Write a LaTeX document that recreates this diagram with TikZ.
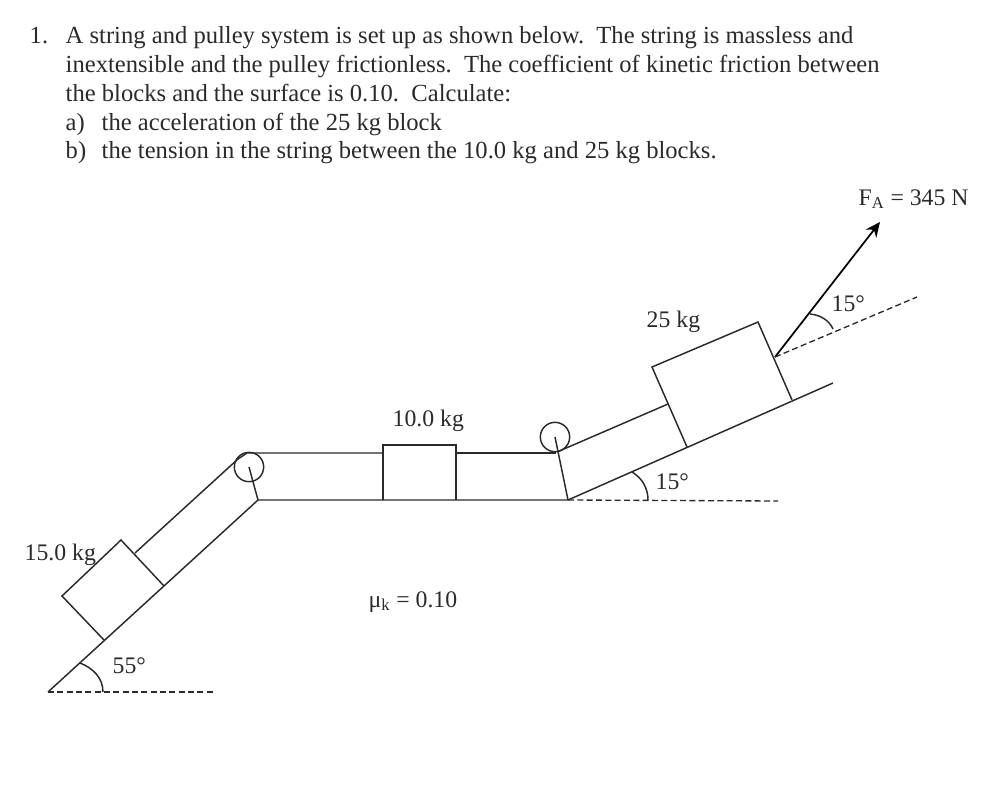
\documentclass[tikz,border=0pt]{standalone}
\usepackage{fontspec}
\setmainfont{Liberation Serif}
\usetikzlibrary{arrows.meta}
\definecolor{inkgray}{HTML}{2A2A2A}

\begin{document}
\begin{tikzpicture}[x=0.75pt,y=-0.75pt,>={Stealth[length=11pt,width=10pt]},line width=1.1pt,color=inkgray,
        textline/.style={anchor=base west,inner sep=0pt,font=\fontsize{18.45}{20}\selectfont},
        lbl/.style={anchor=base west,inner sep=0pt,font=\fontsize{17.8}{20}\selectfont},
        pulley/.style={circle,draw,minimum size=22pt,inner sep=0pt},
        dash line/.style={dash pattern=on 4.5pt off 2.5pt,line width=1pt}]

    \useasboundingbox (0,0) rectangle (1002,792);

    % question text
    \node[textline] (num) at (29,44) {1.};
    \node[textline] (line1) at (65,44) {A string and pulley system is set up as shown below.\ \ The string is massless and};
    \node[textline] (line2) at (65,73) {inextensible and the pulley frictionless.\ \ The coefficient of kinetic friction between};
    \node[textline] (line3) at (65,101) {the blocks and the surface is 0.10.\ \ Calculate:};
    \node[textline] (line4) at (65,130) {a)};
    \node[textline] (line4b) at (101,130) {the acceleration of the 25 kg block};
    \node[textline] (line5) at (65,158) {b)};
    \node[textline] (line5b) at (101,158) {the tension in the string between the 10.0 kg and 25 kg blocks.};

    % surface
    \coordinate (base) at (48,692);
    \coordinate (kneeL) at (258,500);
    \coordinate (kneeR) at (568,500);
    \coordinate (top) at (833,383);
    \coordinate (baseEnd) at (216,692);
    \coordinate (kneeEnd) at (778,501);
    \draw (base) -- (kneeL) -- (kneeR) -- (top);

    % blocks
    \coordinate (a1) at (62,596);
    \coordinate (a2) at (121,540);
    \coordinate (a3) at (164,586);
    \coordinate (a4) at (104,640);
    \draw (a4) -- (a1) -- (a2) -- (a3);

    \coordinate (b1) at (383,500);
    \coordinate (b2) at (383,445);
    \coordinate (b3) at (456,445);
    \coordinate (b4) at (456,500);
    \draw (b1) -- (b2) -- (b3) -- (b4);

    \coordinate (c1) at (687,447);
    \coordinate (c2) at (652,367);
    \coordinate (c3) at (758,322);
    \coordinate (c4) at (792,400);
    \draw (c1) -- (c2) -- (c3) -- (c4);

    % pulleys and strings
    \node[pulley] (p1) at (249,467) {};
    \node[pulley] (p2) at (555,437) {};
    \draw (p1.center) -- (kneeL);
    \draw (p2.center) -- (kneeR);

    \coordinate (s1) at (135,553);
    \coordinate (s2) at (238,459);
    \coordinate (s3) at (247,453);
    \coordinate (s4) at (556,453);
    \coordinate (s5) at (557,452);
    \coordinate (s6) at (668,404);
    \draw (s1) -- (s2) -- (s3) -- (b2 |- s3);
    \draw (b3 |- s3) -- (s4);
    \draw (s5) -- (s6);

    % applied force
    \coordinate (f0) at (775,357);
    \coordinate (f1) at (880,222);
    \coordinate (f2) at (917,297);
    \draw[->,line width=1.3pt,color=black] (f0) -- (f1);

    % reference lines
    \draw[dash line] (base) -- (baseEnd);
    \draw[dash line] (kneeR) -- (kneeEnd);
    \draw[dash line] (f0) -- (f2);

    % angle arcs
    \coordinate (arcA1) at (80,663);
    \coordinate (arcA2) at (103,692);
    \coordinate (arcB1) at (632,472);
    \coordinate (arcB2) at (648,500);
    \coordinate (arcC1) at (810,314);
    \coordinate (arcC2) at (833,329);
    \draw (arcA1) .. controls (93,668) and (103,678) .. (arcA2);
    \draw (arcB1) .. controls (642,478) and (648,488) .. (arcB2);
    \draw (arcC1) .. controls (820,315) and (829,320) .. (arcC2);

    % labels
    \node[lbl] (m1) at (24,560) {15.0 kg};
    \node[lbl] (m2) at (392,426) {10.0 kg};
    \node[lbl] (m3) at (646,327) {25 kg};
    \node[lbl] (ang1) at (112,673) {55°};
    \node[lbl] (ang2) at (655,489) {15°};
    \node[lbl] (ang3) at (831,311) {15°};
    \node[lbl] (mu) at (368,607) {μ\textsubscript{k} = 0.10};
    \node[lbl] (force) at (858,205) {F\textsubscript{A} = 345 N};

\end{tikzpicture}
\end{document}
